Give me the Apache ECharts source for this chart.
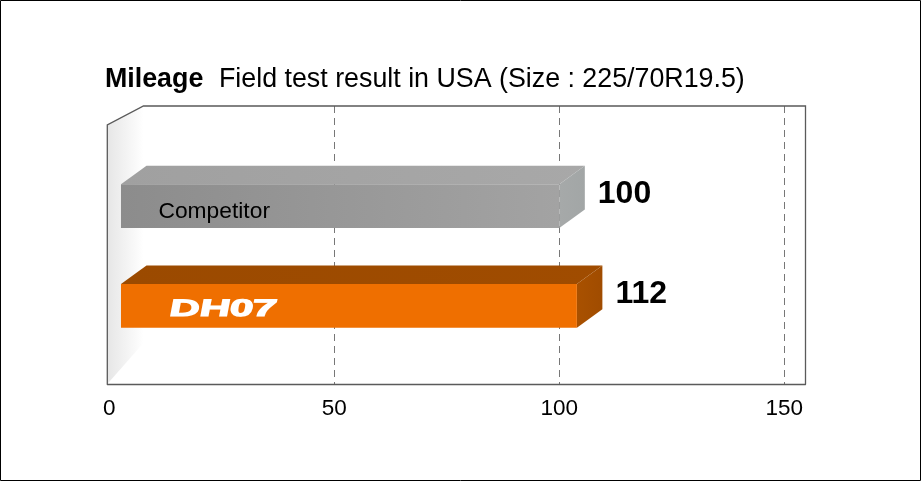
<!DOCTYPE html>
<html><head><meta charset="utf-8">
<style>html,body{margin:0;padding:0;background:#fff}#c{width:921px;height:481px}</style>
<script src="https://cdn.jsdelivr.net/npm/echarts@6/dist/echarts.min.js"></script>
</head><body><div id="c"></div>
<script>
// Data
const categories = ['Competitor', 'DH07'];
const printedValues = [100, 112];      // numbers printed beside the bars
const drawnBarEnds = [100, 103.9];     // where the bars actually end on the axis in the reference
const barStart = 2.6;                  // the bars start slightly right of 0 in the reference
const xTicks = [0, 50, 100, 150];
const titleBold = 'Mileage';
const titleRest = 'Field test result in USA (Size : 225/70R19.5)';

const FONT = '"Liberation Sans", Arial, sans-serif';
const DX = 25.5, DY = -18.5, BAR_H = 0.44;
const FRAME = '#5a5a5a';

const palette = [
  {front: ['#8c8c8c', '#a3a3a3'], top: ['#a0a0a0', '#a8a8a8'], side: ['#a6a9a9', '#a2a6a6']},
  {front: ['#ef6f00', '#ef6f00'], top: ['#9b4a00', '#a04c00'], side: ['#a95100', '#a04c00']}
];
function hGrad(c) {
  return {type: 'linear', x: 0, y: 0, x2: 1, y2: 0, colorStops: [{offset: 0, color: c[0]}, {offset: 1, color: c[1]}]};
}

function renderWall(params, api) {
  const c = params.coordSys;
  const l = c.x, r = c.x + c.width, t = c.y, b = c.y + c.height;
  const wx = 36.2, wy = 19, by = 41;
  return {type: 'group', silent: true, children: [
    {type: 'polygon', shape: {points: [[l, t + wy], [l + wx, t], [l + wx, b - by], [l, b]]},
      style: {fill: {type: 'linear', x: 0, y: 0, x2: 1, y2: 0, colorStops: [{offset: 0, color: '#e6e6e6'}, {offset: 1, color: '#ffffff'}]}}},
    {type: 'polyline', shape: {points: [[l, b], [l, t + wy], [l + wx, t], [r, t], [r, b]]},
      style: {stroke: FRAME, lineWidth: 1.3, fill: 'none'}}
  ]};
}

function renderBar(params, api) {
  const idx = api.value(1), end = api.value(0);
  const p = palette[idx];
  const band = api.size([0, 1])[1];
  const h = band * BAR_H;
  const a = api.coord([barStart, idx]), e = api.coord([end, idx]);
  const x0 = a[0], x1 = e[0], y0 = a[1] - h / 2, y1 = a[1] + h / 2;
  const kids = [
    {type: 'polygon', shape: {points: [[x0, y0], [x0 + DX, y0 + DY], [x1 + DX, y0 + DY], [x1, y0]]}, style: {fill: hGrad(p.top)}},
    {type: 'polygon', shape: {points: [[x1, y0], [x1 + DX, y0 + DY], [x1 + DX, y1 + DY], [x1, y1]]}, style: {fill: hGrad(p.side)}},
    {type: 'rect', shape: {x: x0, y: y0, width: x1 - x0, height: h}, style: {fill: hGrad(p.front)}},
    {type: 'text', style: {x: x1 + DX + 13, y: a[1] - 12, text: String(printedValues[idx]),
      font: 'bold 32px ' + FONT, fill: '#000', textAlign: 'left', textVerticalAlign: 'middle'}}
  ];
  if (idx === 0) {
    kids.push({type: 'text', style: {x: x0 + 37.5, y: a[1] + 6, text: categories[idx],
      font: '22.8px ' + FONT, fill: '#000', textAlign: 'left', textVerticalAlign: 'middle'}});
  } else {
    kids.push({type: 'text', x: x0 + 48.5, y: a[1] + 3.5, scaleX: 1.74, scaleY: 1, skewX: 0.15, style: {x: 0, y: 0, text: categories[idx],
      font: 'italic bold 24px ' + FONT, fill: '#fff', stroke: '#fff', lineWidth: 1.2, textAlign: 'left', textVerticalAlign: 'middle'}});
  }
  return {type: 'group', silent: true, children: kids};
}

const chart = echarts.init(document.getElementById('c'), null, {renderer: 'canvas'});
chart.setOption({
  animation: false,
  backgroundColor: '#fff',
  title: [
    {text: titleBold, left: 100, top: 61, textStyle: {fontFamily: FONT, fontWeight: 'bold', fontSize: 26.8, color: '#000'}},
    {text: titleRest, left: 214, top: 61, textStyle: {fontFamily: FONT, fontWeight: 'normal', fontSize: 26.8, color: '#000'}}
  ],
  graphic: [{type: 'rect', shape: {x: 0.5, y: 0.5, width: 920, height: 480}, style: {fill: 'none', stroke: '#000', lineWidth: 1}, silent: true}],
  grid: [
    {left: 107.3, right: 115.5, top: 106, bottom: 97},
    {left: 107.3, right: 115.5, top: 156.25, height: 199.5}
  ],
  xAxis: [
    {gridIndex: 0, type: 'value', min: -0.44, max: 154.7,
      axisLine: {show: true, onZero: false, lineStyle: {color: FRAME, width: 1.3}},
      axisTick: {show: false, customValues: xTicks},
      axisLabel: {customValues: xTicks, margin: 13, fontFamily: FONT, fontSize: 22.5, color: '#000'},
      splitLine: {show: true, showMinLine: false, lineStyle: {type: [7, 5], color: '#777', width: 1},
        interval: (i, v) => v !== 0}},
    {gridIndex: 1, type: 'value', min: -0.44, max: 154.7, show: false}
  ],
  yAxis: [
    {gridIndex: 0, type: 'value', min: 0, max: 1, show: false},
    {gridIndex: 1, type: 'category', data: categories, inverse: true, show: false}
  ],
  series: [
    {type: 'custom', name: 'wall', xAxisIndex: 0, yAxisIndex: 0, z: 1, renderItem: renderWall, data: [[0, 0]], clip: false},
    {type: 'custom', name: 'bars', xAxisIndex: 1, yAxisIndex: 1, z: 3, renderItem: renderBar,
      encode: {x: 0, y: 1}, clip: false,
      data: categories.map((c, i) => [drawnBarEnds[i], c, printedValues[i]])}
  ]
});
</script></body></html>
